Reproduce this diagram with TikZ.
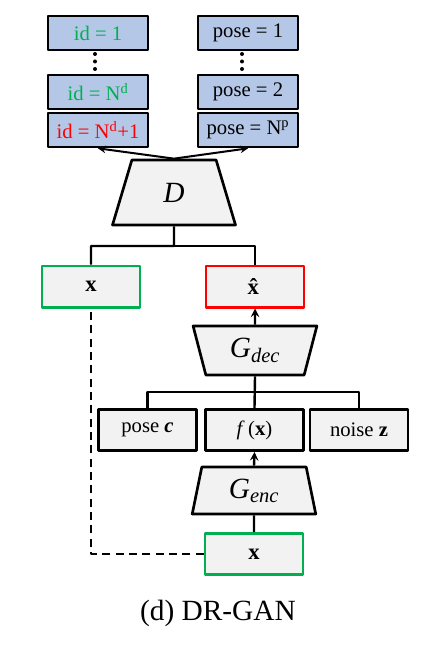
\documentclass[tikz,border=0pt]{standalone}
\usepackage{fontspec}
\setmainfont{Liberation Serif}
\usetikzlibrary{shapes.geometric}
\definecolor{idgreen}{RGB}{0,176,80}
\definecolor{fakered}{RGB}{255,0,0}
\definecolor{boxblue}{RGB}{180,199,231}
\definecolor{boxgray}{RGB}{242,242,242}
\begin{document}
\begin{tikzpicture}[x=0.75pt,y=-0.75pt,>=stealth, line join=round, font=\fontsize{15.5}{18}\selectfont,
	hop/.style={draw,line width=2pt,fill=boxgray,minimum width=73.5pt,minimum height=31pt,inner sep=0pt},
	nhan/.style={draw,line width=2pt,fill=boxblue,minimum width=75pt,minimum height=25.5pt,inner sep=0pt},
	thang/.style={trapezium,draw,line width=2pt,fill=boxgray,trapezium stretches=true,inner sep=0pt,font=\fontsize{22}{24}\selectfont\itshape},
	noi/.style={line width=1.8pt}]
	\useasboundingbox (0,0) rectangle (437,649);
	% nhan id va pose
	\node[nhan,text=idgreen] (id1) at (98,33) {id = 1};
	\node[nhan,text=idgreen] (idNd) at (98,92) {id = N\textsuperscript{d}};
	\node[nhan,text=fakered] (idNd1) at (98,130) {id = N\textsuperscript{d}+1};
	\node[nhan] (pose1) at (248,33) {pose = 1};
	\node[nhan] (pose2) at (248,92) {pose = 2};
	\node[nhan] (poseNp) at (248,130) {pose = N\textsuperscript{p}};
	\foreach \y in {54,61.5,69} {\fill (95,\y) circle(1.5pt); \fill (242,\y) circle(1.5pt);}
	% D
	\node[thang,minimum width=92.25pt,minimum height=48.75pt,trapezium angle=75.8] (D) at (174,192.5) {D};
	\draw[->,line width=1.5pt] (D.north) -- (idNd1.south);
	\draw[->,line width=1.5pt] (D.north) -- (poseNp.south);
	\node[hop,draw=idgreen,font=\fontsize{17}{18}\selectfont] (xreal) at (91,286.5) {\textbf{x}};
	\node[hop,draw=fakered,font=\fontsize{17}{18}\selectfont] (xfake) at (255,286.5) {\textbf{\^{x}}};
	\coordinate (jD) at (174,246);
	\draw[noi] (D.south) -- (jD) -| (xreal.north);
	\draw[noi] (jD) -| (xfake.north);
	% G
	\node[thang,shape border rotate=180,minimum width=93pt,minimum height=36.75pt,trapezium angle=75] (Gdec) at (255,350.5) {G\textsubscript{dec}};
	\draw[->,noi] (Gdec.north) -- (xfake.south);
	\node[hop] (posec) at (147.5,430) {pose \textbf{\textit{c}}};
	\node[hop] (fx) at (254.5,430) {\textit{f}\,(\textbf{x})};
	\node[hop] (noise) at (359,430) {noise \textbf{z}};
	\coordinate (jG) at (254.5,392);
	\draw[noi] (Gdec.south) -- (fx.north);
	\draw[noi] (posec.north) |- (jG) -| (noise.north);
	\node[thang,minimum width=93pt,minimum height=35.25pt,trapezium angle=79] (Genc) at (254,490.5) {G\textsubscript{enc}};
	\draw[->,noi] (Genc.north) -- (fx.south);
	\node[hop,draw=idgreen,font=\fontsize{17}{18}\selectfont] (xin) at (254,554) {\textbf{x}};
	\draw[noi] (xin.north) -- (Genc.south);
	\draw[noi,dash pattern=on 6pt off 4pt] (xin.west) -| (xreal.south);
	\node[font=\fontsize{22}{24}\selectfont] (cap) at (218,613) {(d) DR-GAN};
\end{tikzpicture}
\end{document}
